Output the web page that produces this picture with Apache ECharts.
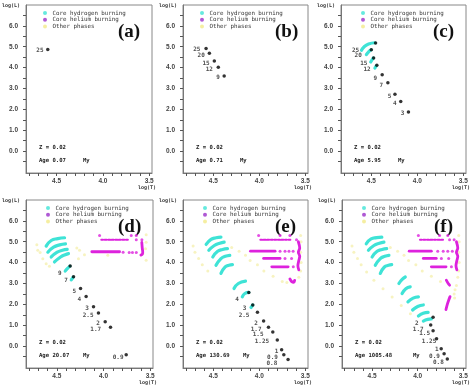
<!DOCTYPE html>
<html><head><meta charset="utf-8">
<script src="https://cdn.jsdelivr.net/npm/echarts@6/dist/echarts.min.js"></script>
<style>html,body{margin:0;padding:0;background:#fff}#c{width:474px;height:391px}</style>
</head><body><div id="c"></div>
<script>
// ---------- axis ticks ----------
const xTickVals = [3.5,3.6,3.7,3.8,3.9,4.0,4.1,4.2,4.3,4.4,4.5,4.6,4.7,4.8];
const xLabelVals = [3.5,4.0,4.5];
const yTickVals = [-0.5,0,0.5,1,1.5,2,2.5,3,3.5,4,4.5,5,5.5,6,6.5];
const yLabelVals = [0,1,2,3,4,5,6];
const panelLetters = ['(a)','(b)','(c)','(d)','(e)','(f)'];
const ages = ['0.07','0.71','5.95','20.07','130.69','1005.48'];
const metallicity = '0.02';
const legendNames = ['Core hydrogen burning','Core helium burning','Other phases'];

// ---------- panel (a) ----------
const dotsA = [[4.595,4.87]];
const labA = [[4.63,4.83,'25']];
// ---------- panel (b) ----------
const dotsB = [[4.579,4.91],[4.543,4.69],[4.489,4.32],[4.446,4.02],[4.382,3.60]];
const labB = [[4.629,4.88,'25'],[4.582,4.58,'20'],[4.529,4.21,'15'],[4.493,3.89,'12'],[4.418,3.54,'9']];
// ---------- panel (c) ----------
const dotsC = [[4.454,5.18],[4.50,4.86],[4.475,4.46],[4.44,4.11],[4.382,3.66],[4.32,3.28],[4.243,2.72],[4.18,2.38],[4.096,1.87]];
const labC = [[4.621,4.83,'25'],[4.593,4.56,'20'],[4.532,4.19,'15'],[4.496,3.90,'12'],[4.425,3.50,'9'],[4.361,3.15,'7'],[4.271,2.64,'5'],[4.214,2.27,'4'],[4.129,1.82,'3']];
const hC = [
  [[4.607,4.83],[4.58,4.99],[4.53,5.13],[4.461,5.19]],
  [[4.554,4.62],[4.525,4.78],[4.503,4.85]],
  [[4.507,4.27],[4.489,4.40],[4.479,4.46]],
  [[4.461,3.98],[4.447,4.08]]
];
// ---------- panel (d) ----------
const dotsD = [[4.357,3.84],[4.321,3.32],[4.246,2.76],[4.186,2.38],[4.107,1.89],[4.054,1.59],[3.982,1.17],[3.925,0.90],[3.757,-0.41]];
const labD = [[4.439,3.48,'9'],[4.371,3.13,'7'],[4.282,2.60,'5'],[4.229,2.24,'4'],[4.146,1.79,'3'],[4.096,1.49,'2.5'],[4.029,1.10,'2'],[4.014,0.79,'1.7'],[3.775,-0.52,'0.9']];
const hD = [
  [[4.614,4.79],[4.56,5.06],[4.49,5.15],[4.417,5.19]],
  [[4.596,4.50],[4.535,4.74],[4.47,4.85],[4.407,4.90]],
  [[4.56,4.27],[4.496,4.50],[4.44,4.59],[4.389,4.63]],
  [[4.525,4.03],[4.46,4.27],[4.41,4.38],[4.375,4.43]],
  [[4.41,3.60],[4.385,3.72],[4.36,3.83]],
  [[4.345,3.17],[4.325,3.30]]
];
const heLinesD = [
  [[4.024,5.10],[3.739,5.10]],
  [[4.125,4.52],[3.828,4.52]],
  [[3.59,4.97],[3.585,4.70],[3.58,4.50],[3.585,4.40],[3.60,4.36]]
];
const hePtsD = [[4.042,5.30],[3.703,5.30],[3.649,5.30],[3.649,5.10],[3.589,5.10],[3.79,4.50],[3.725,4.49],[3.69,4.49],[3.649,4.49]];
const otherD = [[4.714,4.86],[4.704,4.59],[4.679,4.48],[4.65,4.19],[4.614,3.95],[4.579,3.83],[4.286,4.70],[4.257,4.59],[4.204,4.38],[4.268,4.19],[3.954,4.35],[3.543,5.33],[3.543,4.98],[3.55,4.67],[3.543,4.11],[3.579,4.43]];
// ---------- panel (e) ----------
const dotsE = [[4.114,2.57],[4.071,1.97],[4.02,1.62],[3.953,1.20],[3.90,0.90],[3.853,0.67],[3.804,0.29],[3.757,-0.18],[3.733,-0.41],[3.687,-0.64]];
const labE = [[4.211,2.25,'4'],[4.129,1.81,'3'],[4.096,1.49,'2.5'],[4.004,1.10,'2'],[3.964,0.81,'1.7'],[3.943,0.57,'1.5'],[3.882,0.22,'1.25'],[3.782,-0.24,'1'],[3.786,-0.52,'0.9'],[3.793,-0.83,'0.8']];
const hE = [
  [[4.578,4.87],[4.525,5.11],[4.47,5.19],[4.417,5.22]],
  [[4.549,4.59],[4.489,4.82],[4.43,4.93],[4.382,4.98]],
  [[4.506,4.27],[4.453,4.54],[4.40,4.63],[4.346,4.67]],
  [[4.471,3.87],[4.417,4.19],[4.37,4.30],[4.321,4.35]],
  [[4.417,3.48],[4.371,3.79],[4.33,3.87],[4.292,3.90]],
  [[4.275,2.76],[4.228,3.00],[4.15,3.11]],
  [[4.185,2.36],[4.157,2.52],[4.114,2.57]],
  [[4.09,1.85],[4.071,1.97]]
];
const heLinesE = [
  [[3.989,5.10],[3.649,5.10]],
  [[4.096,4.55],[3.828,4.55]],
  [[3.953,4.20],[3.774,4.20]],
  [[3.864,3.80],[3.686,3.80]],
  [[3.575,5.0],[3.56,4.7],[3.575,4.5],[3.56,4.3],[3.57,4.1],[3.58,3.85],[3.57,3.65]],
  [[3.667,3.22],[3.65,3.10],[3.625,3.05],[3.615,3.15]]
];
const hePtsE = [[4.007,5.30],[3.774,5.30],[3.667,5.30],[3.595,5.10],[3.774,4.55],[3.72,4.55],[3.677,4.55],[3.632,4.55],[3.72,4.20],[3.649,4.20],[3.63,3.80]];
const otherE = [[4.72,4.80],[4.70,4.50],[4.66,4.20],[4.62,3.90],[4.56,3.60],[4.30,4.72],[4.22,4.55],[4.15,4.35],[4.10,4.10],[4.02,3.90],[3.95,3.60],[3.85,3.35],[3.75,3.10],[3.70,3.05],[3.55,5.30],[3.545,5.00],[3.55,4.50],[3.545,4.00],[3.55,3.60],[3.57,3.30]];
// ---------- panel (f) ----------
const dotsF = [[3.831,1.38],[3.857,1.01],[3.831,0.74],[3.793,0.35],[3.742,-0.13],[3.71,-0.37],[3.675,-0.62]];
const labF = [[3.978,1.10,'2'],[3.924,0.82,'1.7'],[3.853,0.59,'1.5'],[3.785,0.20,'1.25'],[3.76,-0.18,'1'],[3.745,-0.50,'0.9'],[3.703,-0.76,'0.8']];
const hF = [
  [[4.564,4.90],[4.511,5.14],[4.45,5.20],[4.393,5.22]],
  [[4.54,4.59],[4.48,4.82],[4.42,4.93],[4.37,4.98]],
  [[4.50,4.27],[4.445,4.54],[4.39,4.63],[4.34,4.67]],
  [[4.465,3.87],[4.41,4.19],[4.36,4.30],[4.315,4.35]],
  [[4.41,3.48],[4.365,3.79],[4.32,3.87],[4.285,3.90]],
  [[4.206,3.00],[4.17,3.20],[4.136,3.31]],
  [[4.171,2.52],[4.13,2.75],[4.082,2.84]],
  [[4.107,2.12],[4.05,2.30],[3.992,2.36]],
  [[4.056,1.73],[4.0,1.90],[3.938,1.97]],
  [[3.992,1.44],[3.94,1.57],[3.885,1.62]],
  [[3.938,1.20],[3.89,1.28],[3.85,1.30]]
];
const heLinesF = [
  [[3.975,5.10],[3.707,5.10]],
  [[4.093,4.55],[3.85,4.55]],
  [[3.938,4.20],[3.796,4.20]],
  [[3.85,3.80],[3.689,3.80]],
  [[3.575,5.0],[3.56,4.7],[3.575,4.5],[3.56,4.3],[3.57,4.1],[3.58,3.85],[3.57,3.65]],
  [[3.686,3.16],[3.665,3.0],[3.65,2.92]],
  [[3.69,1.75],[3.675,2.0],[3.66,2.2],[3.645,2.37]]
];
const hePtsF = [[3.992,5.30],[3.76,5.30],[3.67,5.30],[3.65,5.10],[3.60,5.10],[3.78,4.55],[3.72,4.55],[3.67,4.55],[3.62,4.55],[3.74,4.20],[3.66,4.20],[3.63,3.80]];
const otherF = [[4.72,4.80],[4.70,4.50],[4.66,4.20],[4.62,3.90],[4.56,3.55],[4.48,3.15],[4.38,2.75],[4.28,2.35],[4.18,1.95],[4.08,1.55],[4.30,4.72],[4.22,4.55],[4.15,4.35],[4.10,4.10],[4.02,3.90],[3.95,3.60],[3.85,3.35],[3.75,3.10],[3.55,5.30],[3.545,5.00],[3.55,4.50],[3.545,4.00],[3.55,3.60],[3.56,3.30],[3.575,2.90],[3.59,2.70],[3.60,2.50],[3.595,2.30]];

// ---------- layout ----------
const grids = [
  {left:26, top:5, width:126, height:168},
  {left:183, top:5, width:125, height:168},
  {left:341, top:5, width:125, height:168},
  {left:26, top:200, width:127, height:168},
  {left:183, top:200, width:125, height:168},
  {left:342, top:200, width:124, height:168}
];
const panels = [
  {dots:dotsA, lab:labA, h:[], heL:[], heP:[], oth:[]},
  {dots:dotsB, lab:labB, h:[], heL:[], heP:[], oth:[]},
  {dots:dotsC, lab:labC, h:hC, heL:[], heP:[], oth:[]},
  {dots:dotsD, lab:labD, h:hD, heL:heLinesD, heP:hePtsD, oth:otherD},
  {dots:dotsE, lab:labE, h:hE, heL:heLinesE, heP:hePtsE, oth:otherE},
  {dots:dotsF, lab:labF, h:hF, heL:heLinesF, heP:hePtsF, oth:otherF}
];
const CY = '#3fe3d6', MG = '#dd22dd', YL = '#f5f0b0';
const smallFont = 'DejaVu Sans Mono';

const option = {animation:false, grid:[], xAxis:[], yAxis:[], series:[], legend:[], graphic:[]};

grids.forEach((g, i) => {
  option.grid.push(Object.assign({show:true, borderColor:'#888', borderWidth:1, containLabel:false}, g));
  option.xAxis.push({
    gridIndex:i, type:'value', min:3.47, max:4.83, inverse:true,
    axisLine:{show:true, onZero:false, lineStyle:{color:'#777'}},
    axisTick:{show:true, customValues:xTickVals, length:3, lineStyle:{color:'#555'}},
    axisLabel:{customValues:xLabelVals, formatter:v=>v.toFixed(1), fontSize:6.5, fontWeight:'bold', fontFamily:'Liberation Sans', color:'#444', margin:5},
    splitLine:{show:false}
  });
  option.yAxis.push({
    gridIndex:i, type:'value', min:-1.05, max:7.0,
    axisLine:{show:true, onZero:false, lineStyle:{color:'#777'}},
    axisTick:{show:true, customValues:yTickVals, length:3, lineStyle:{color:'#555'}},
    axisLabel:{customValues:yLabelVals, formatter:v=>v.toFixed(1), fontSize:6.5, fontWeight:'bold', fontFamily:'Liberation Sans', color:'#444', margin:8},
    splitLine:{show:false}
  });
  const p = panels[i];
  option.series.push({type:'scatter', name:legendNames[0], xAxisIndex:i, yAxisIndex:i, data:[], itemStyle:{color:CY}});
  option.series.push({type:'scatter', name:legendNames[1], xAxisIndex:i, yAxisIndex:i, data:[], itemStyle:{color:'#9b2fc9'}});
  option.series.push({type:'scatter', name:legendNames[2], xAxisIndex:i, yAxisIndex:i, data:[], itemStyle:{color:'#f2ea8a'}});
  option.series.push({type:'scatter', xAxisIndex:i, yAxisIndex:i, data:p.oth, symbolSize:3, itemStyle:{color:YL}, silent:true, z:1});
  p.h.forEach(arc => option.series.push({type:'line', xAxisIndex:i, yAxisIndex:i, data:arc, smooth:0.5, showSymbol:false, symbol:'none', lineStyle:{color:CY, width:3.2, cap:'round'}, silent:true, z:2}));
  p.heL.forEach((ln, k) => option.series.push({type:'line', xAxisIndex:i, yAxisIndex:i, data:ln, smooth:0.3, symbol:'none', lineStyle:{color:MG, width:(k===0?2:2.8), type:(k===0?[2,1.5]:'solid'), cap:'round'}, silent:true, z:3}));
  option.series.push({type:'scatter', xAxisIndex:i, yAxisIndex:i, data:p.heP, symbolSize:3, itemStyle:{color:MG}, silent:true, z:3});
  option.series.push({type:'scatter', xAxisIndex:i, yAxisIndex:i, data:p.dots, symbolSize:3.5, itemStyle:{color:'#000'}, silent:true, z:5});
  option.series.push({type:'scatter', xAxisIndex:i, yAxisIndex:i, data:p.lab, symbolSize:0, silent:true, z:6,
    label:{show:true, position:'left', distance:1, formatter:d=>d.data[2], fontSize:6, fontFamily:smallFont, fontWeight:'bold', color:'#222'}});

  option.legend.push({data:legendNames, orient:'vertical', left:g.left+17+(i===0||i===1?0:3), top:g.top+5, padding:0,
    itemWidth:5, itemHeight:4, itemGap:0.8, icon:'circle', selectedMode:false,
    textStyle:{fontSize:5.8, fontFamily:smallFont, color:'#333', lineHeight:5}});

  option.graphic.push({type:'text', left:g.left-24, top:g.top-2, style:{text:'log(L)', font:'bold 5px DejaVu Sans Mono', fill:'#333'}});
  option.graphic.push({type:'text', left:g.left+g.width-14, top:g.top+g.height+12, style:{text:'log(T)', font:'bold 5px DejaVu Sans Mono', fill:'#333'}});
  option.graphic.push({type:'text', left:g.left+92, top:g.top+18, style:{text:panelLetters[i], font:'bold 19px Liberation Serif', fill:'#111'}});
  option.graphic.push({type:'text', left:g.left+13, top:g.top+140, style:{text:'Z = ' + metallicity, font:'bold 5.6px DejaVu Sans Mono', fill:'#222'}});
  option.graphic.push({type:'text', left:g.left+13, top:g.top+153, style:{text:'Age ' + ages[i], font:'bold 5.6px DejaVu Sans Mono', fill:'#222'}});
  option.graphic.push({type:'text', left:g.left+57+(i===5?14:(i===4?3:0)), top:g.top+153, style:{text:'My', font:'bold 5.6px DejaVu Sans Mono', fill:'#222'}});
});

const chart = echarts.init(document.getElementById('c'), null, {renderer:'canvas'});
chart.setOption(option);
</script></body></html>
